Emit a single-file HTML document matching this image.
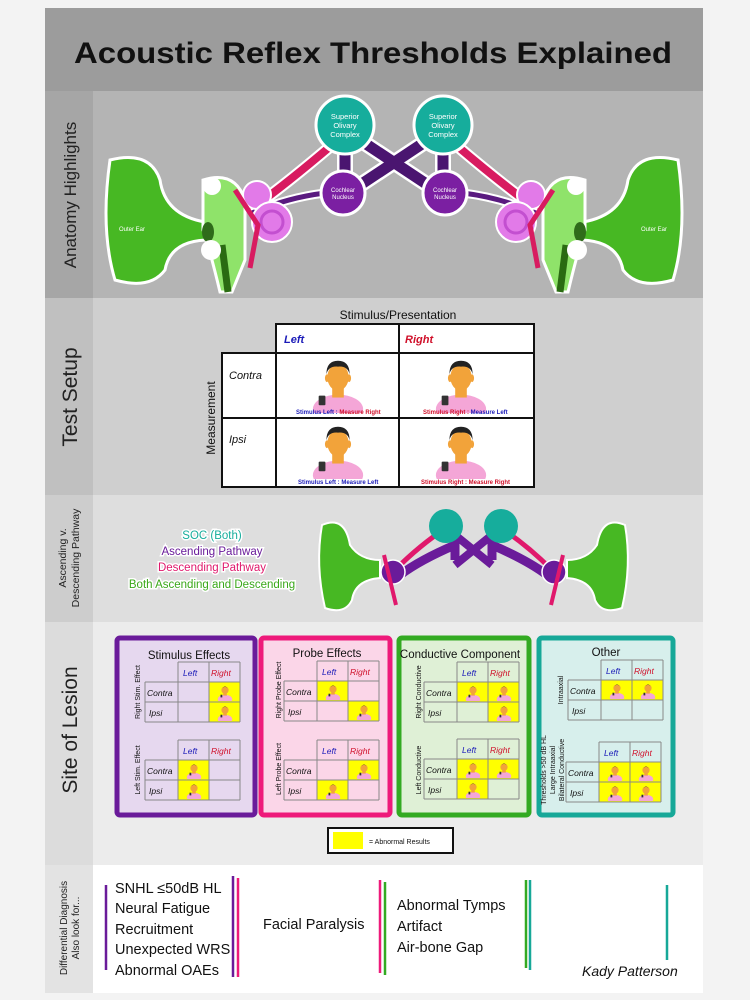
<!DOCTYPE html>
<html><head><meta charset="utf-8"><style>
html,body{margin:0;padding:0;background:#f3f3f3;}
svg{display:block;}
text{font-family:"Liberation Sans",sans-serif;}
</style></head><body>
<svg width="750" height="1000" viewBox="0 0 750 1000" xmlns="http://www.w3.org/2000/svg">
<defs>
<symbol id="pp" viewBox="0 0 20 20">
<ellipse cx="10" cy="18" rx="8" ry="5" fill="#f4a6d7"/>
<rect x="8" y="10" width="4" height="4" fill="#f2a33a"/>
<circle cx="10" cy="8" r="4" fill="#f2a33a"/>
<path d="M6 7 Q10 1 14 7 Q12 4 10 4.5 Q8 4 6 7Z" fill="#222"/>
<rect x="5" y="13" width="2" height="3" fill="#333"/>
</symbol>
<symbol id="pb" viewBox="0 0 60 60">
<ellipse cx="30" cy="56" rx="26" ry="15" fill="#f4a6d7"/>
<rect x="24" y="32" width="12" height="12" fill="#f2a33a"/>
<ellipse cx="30" cy="23" rx="11" ry="14" fill="#f2a33a"/>
<path d="M18 20 Q18 6 30 6 Q42 6 42 20 Q40 11 30 12 Q20 11 18 20Z" fill="#222"/>
<ellipse cx="18.5" cy="24" rx="2" ry="4" fill="#f2a33a"/>
<ellipse cx="41.5" cy="24" rx="2" ry="4" fill="#f2a33a"/>
<rect x="10" y="42" width="7" height="10" rx="1" fill="#333"/>
</symbol>
</defs>
<rect width="750" height="1000" fill="#f3f3f3"/>
<!-- title -->
<rect x="45" y="8" width="658" height="83" fill="#9c9c9c"/>
<text x="373" y="63" text-anchor="middle" font-size="30" font-weight="bold" fill="#111" textLength="598" lengthAdjust="spacingAndGlyphs">Acoustic Reflex Thresholds Explained</text>
<!-- section backgrounds -->
<rect x="45" y="91" width="658" height="207" fill="#b4b4b4"/><rect x="45" y="91" width="48" height="207" fill="#a6a6a6"/>
<rect x="45" y="298" width="658" height="197" fill="#cfcfcf"/><rect x="45" y="298" width="48" height="197" fill="#c0c0c0"/>
<rect x="45" y="495" width="658" height="127" fill="#dedede"/><rect x="45" y="495" width="48" height="127" fill="#cdcdcd"/>
<rect x="45" y="622" width="658" height="243" fill="#ececec"/><rect x="45" y="622" width="48" height="243" fill="#dcdcdc"/>
<rect x="45" y="865" width="658" height="128" fill="#ffffff"/><rect x="45" y="865" width="48" height="128" fill="#e3e3e3"/>
<!-- section labels -->
<text transform="translate(76,195) rotate(-90)" text-anchor="middle" font-size="17" fill="#222">Anatomy Highlights</text>
<text transform="translate(77,397) rotate(-90)" text-anchor="middle" font-size="21" fill="#222">Test Setup</text>
<text transform="translate(66,558) rotate(-90)" text-anchor="middle" font-size="10.5" fill="#222">Ascending v.</text>
<text transform="translate(79,558) rotate(-90)" text-anchor="middle" font-size="10.5" fill="#222">Descending Pathway</text>
<text transform="translate(77,730) rotate(-90)" text-anchor="middle" font-size="21" fill="#222">Site of Lesion</text>
<text transform="translate(67,928) rotate(-90)" text-anchor="middle" font-size="10" fill="#222">Differential Diagnosis</text>
<text transform="translate(79,928) rotate(-90)" text-anchor="middle" font-size="10" fill="#222">Also look for...</text>

<!-- ANATOMY -->
<path d="M345 130 L443 195 M443 130 L345 195" stroke="#fff" stroke-width="16"/>
<path d="M345 130 L443 195 M443 130 L345 195" stroke="#4a1570" stroke-width="11"/>
<g id="earL">
<path d="M345 140 L345 190" stroke="#fff" stroke-width="16"/>
<path d="M345 140 L345 190" stroke="#4a1570" stroke-width="11"/>
<path d="M250 210 Q285 185 332 145" stroke="#fff" stroke-width="12" fill="none"/>
<path d="M250 210 Q285 185 332 145" stroke="#d81b60" stroke-width="8" fill="none"/>
<path d="M250 214 Q285 198 325 193" stroke="#fff" stroke-width="9" fill="none"/>
<path d="M250 214 Q285 198 325 193" stroke="#5a1a80" stroke-width="5" fill="none"/>
<path d="M110 160 Q150 150 160 180 Q165 215 205 222 L205 240 Q170 242 165 270 Q150 290 115 280 Q100 230 110 160Z" fill="#47b823" stroke="#fff" stroke-width="3"/>
<path d="M203 180 Q235 170 245 200 L245 260 L232 292 L220 292 Q210 250 203 230Z" fill="#8fe36a" stroke="#fff" stroke-width="3"/>
<path d="M222 245 L228 292" stroke="#2a6b12" stroke-width="7"/>
<ellipse cx="208" cy="232" rx="6" ry="10" fill="#2f6b1a"/>
<circle cx="257" cy="195" r="14" fill="#e27ae8" stroke="#fff" stroke-width="2"/>
<circle cx="272" cy="222" r="20" fill="#e27ae8" stroke="#fff" stroke-width="2"/>
<circle cx="272" cy="222" r="11" fill="none" stroke="#c34fd0" stroke-width="3"/>
<path d="M235 190 L258 225 L250 268" stroke="#d81b60" stroke-width="5" fill="none"/>
<circle cx="345" cy="125" r="29" fill="#16ad9c" stroke="#fff" stroke-width="3"/>
<circle cx="343" cy="193" r="22" fill="#7b1fa2" stroke="#fff" stroke-width="3"/>
<circle cx="212" cy="186" r="9" fill="#fff"/>
<circle cx="211" cy="250" r="10" fill="#fff"/>
</g>
<use href="#earL" transform="translate(788,0) scale(-1,1)"/>
<g font-size="7.5" fill="#fff" text-anchor="middle">
<text x="345" y="119">Superior</text><text x="345" y="128">Olivary</text><text x="345" y="137">Complex</text>
<text x="443" y="119">Superior</text><text x="443" y="128">Olivary</text><text x="443" y="137">Complex</text>
<text x="343" y="192" font-size="6">Cochlear</text><text x="343" y="199" font-size="6">Nucleus</text>
<text x="445" y="192" font-size="6">Cochlear</text><text x="445" y="199" font-size="6">Nucleus</text>
<text x="132" y="231" font-size="6">Outer Ear</text><text x="654" y="231" font-size="6">Outer Ear</text>
</g>

<!-- TEST SETUP -->
<text x="398" y="319" text-anchor="middle" font-size="12" fill="#111">Stimulus/Presentation</text>
<text transform="translate(215,418) rotate(-90)" text-anchor="middle" font-size="12" fill="#111">Measurement</text>
<rect x="276" y="324" width="258" height="29" fill="#fff" stroke="#111" stroke-width="2"/>
<rect x="222" y="353" width="312" height="134" fill="#fff" stroke="#111" stroke-width="2"/>
<path d="M276 353 V487 M399 324 V487 M222 418 H534" stroke="#111" stroke-width="2"/>
<text x="284" y="343" font-size="11" font-style="italic" font-weight="bold" fill="#1a1ab8">Left</text>
<text x="405" y="343" font-size="11" font-style="italic" font-weight="bold" fill="#d0102a">Right</text>
<text x="229" y="379" font-size="11" font-style="italic" fill="#111">Contra</text>
<text x="229" y="443" font-size="11" font-style="italic" fill="#111">Ipsi</text>
<use href="#pb" x="305" y="355" width="66" height="58"/>
<use href="#pb" x="428" y="355" width="66" height="58"/>
<use href="#pb" x="305" y="421" width="66" height="58"/>
<use href="#pb" x="428" y="421" width="66" height="58"/>
<g font-size="6" font-weight="bold">
<text x="296" y="414" fill="#1a1ab8">Stimulus Left : <tspan fill="#d0102a">Measure Right</tspan></text>
<text x="423" y="414" fill="#d0102a">Stimulus Right : <tspan fill="#1a1ab8">Measure Left</tspan></text>
<text x="298" y="484" fill="#1a1ab8">Stimulus Left : Measure Left</text>
<text x="421" y="484" fill="#d0102a">Stimulus Right : Measure Right</text>
</g>

<!-- ASCENDING -->
<g font-size="11.5" text-anchor="middle" stroke="#fff" stroke-width="3" paint-order="stroke">
<text x="212" y="539" fill="#16ad9c">SOC (Both)</text>
<text x="212" y="555" fill="#6a1b9a">Ascending Pathway</text>
<text x="212" y="571" fill="#e0186c">Descending Pathway</text>
<text x="212" y="588" fill="#3aa81a">Both Ascending and Descending</text>
</g>
<path d="M455 535 L492 565 M492 535 L455 565" stroke="#6a1b9a" stroke-width="8"/>
<g id="asL">
<path d="M322 525 Q345 515 350 545 Q360 560 380 560 L380 578 Q355 580 352 600 Q345 615 325 608 Q315 565 322 525Z" fill="#47b823" stroke="#fff" stroke-width="2"/>
<path d="M400 575 Q420 560 455 545" stroke="#6a1b9a" stroke-width="9" fill="none"/>
<path d="M395 570 Q420 545 446 528" stroke="#e0186c" stroke-width="5" fill="none"/>
<circle cx="393" cy="572" r="12" fill="#6a1b9a" stroke="#fff" stroke-width="1.5"/>
<path d="M384 555 L396 605" stroke="#e0186c" stroke-width="4"/>
<path d="M455 530 L455 560" stroke="#6a1b9a" stroke-width="9"/>
<circle cx="446" cy="526" r="17" fill="#16ad9c"/>
</g>
<use href="#asL" transform="translate(947,0) scale(-1,1)"/>

<!-- LESION PANELS -->
<rect x="117" y="638" width="138" height="177" rx="3" fill="#e6d8ef" stroke="#6a1b9a" stroke-width="5"/>
<rect x="261" y="638" width="129" height="177" rx="3" fill="#fbd6e8" stroke="#ee1a7a" stroke-width="5"/>
<rect x="399" y="638" width="130" height="177" rx="3" fill="#dff0d6" stroke="#33aa22" stroke-width="5"/>
<rect x="539" y="638" width="134" height="177" rx="3" fill="#d7efec" stroke="#17a898" stroke-width="5"/>
<g font-size="11.5" text-anchor="middle" fill="#111">
<text x="189" y="659">Stimulus Effects</text>
<text x="327" y="657">Probe Effects</text>
<text x="460" y="658">Conductive Component</text>
<text x="606" y="656">Other</text>
</g>
<g font-size="7" fill="#111" text-anchor="middle">
<text transform="translate(140,692) rotate(-90)">Right Stim. Effect</text>
<text transform="translate(140,770) rotate(-90)">Left Stim. Effect</text>
<text transform="translate(281,690) rotate(-90)">Right Probe Effect</text>
<text transform="translate(281,769) rotate(-90)">Left Probe Effect</text>
<text transform="translate(421,692) rotate(-90)">Right Conductive</text>
<text transform="translate(421,770) rotate(-90)">Left Conductive</text>
<text transform="translate(563,690) rotate(-90)">Intraaxial</text>
<text transform="translate(546,770) rotate(-90)">Thresholds &gt;50 dB HL</text>
<text transform="translate(555,770) rotate(-90)">Large Intraaxial</text>
<text transform="translate(564,770) rotate(-90)">Bilateral Conductive</text>
</g>

<g font-size="8.5" font-style="italic">
<g transform="translate(145,662)">
<rect x="64" y="20" width="31" height="40" fill="#ffff00"/>
<use href="#pp" x="71" y="21" width="18" height="18"/><use href="#pp" x="71" y="41" width="18" height="18"/>
<path d="M33 0H95M0 20H95M0 40H95M0 60H95M0 20V60M33 0V60M64 0V60M95 0V60" stroke="#888" fill="none"/>
<text x="38" y="14" fill="#1a1ab8">Left</text><text x="66" y="14" fill="#d0102a">Right</text><text x="2" y="34" fill="#111">Contra</text><text x="4" y="54" fill="#111">Ipsi</text>
</g>
<g transform="translate(145,740)">
<rect x="33" y="20" width="31" height="40" fill="#ffff00"/>
<use href="#pp" x="40" y="21" width="18" height="18"/><use href="#pp" x="40" y="41" width="18" height="18"/>
<path d="M33 0H95M0 20H95M0 40H95M0 60H95M0 20V60M33 0V60M64 0V60M95 0V60" stroke="#888" fill="none"/>
<text x="38" y="14" fill="#1a1ab8">Left</text><text x="66" y="14" fill="#d0102a">Right</text><text x="2" y="34" fill="#111">Contra</text><text x="4" y="54" fill="#111">Ipsi</text>
</g>
<g transform="translate(284,661)">
<rect x="33" y="20" width="31" height="20" fill="#ffff00"/><rect x="64" y="40" width="31" height="20" fill="#ffff00"/>
<use href="#pp" x="40" y="21" width="18" height="18"/><use href="#pp" x="71" y="41" width="18" height="18"/>
<path d="M33 0H95M0 20H95M0 40H95M0 60H95M0 20V60M33 0V60M64 0V60M95 0V60" stroke="#888" fill="none"/>
<text x="38" y="14" fill="#1a1ab8">Left</text><text x="66" y="14" fill="#d0102a">Right</text><text x="2" y="34" fill="#111">Contra</text><text x="4" y="54" fill="#111">Ipsi</text>
</g>
<g transform="translate(284,740)">
<rect x="64" y="20" width="31" height="20" fill="#ffff00"/><rect x="33" y="40" width="31" height="20" fill="#ffff00"/>
<use href="#pp" x="71" y="21" width="18" height="18"/><use href="#pp" x="40" y="41" width="18" height="18"/>
<path d="M33 0H95M0 20H95M0 40H95M0 60H95M0 20V60M33 0V60M64 0V60M95 0V60" stroke="#888" fill="none"/>
<text x="38" y="14" fill="#1a1ab8">Left</text><text x="66" y="14" fill="#d0102a">Right</text><text x="2" y="34" fill="#111">Contra</text><text x="4" y="54" fill="#111">Ipsi</text>
</g>
<g transform="translate(424,662)">
<rect x="33" y="20" width="62" height="20" fill="#ffff00"/><rect x="64" y="40" width="31" height="20" fill="#ffff00"/>
<use href="#pp" x="40" y="21" width="18" height="18"/><use href="#pp" x="71" y="21" width="18" height="18"/><use href="#pp" x="71" y="41" width="18" height="18"/>
<path d="M33 0H95M0 20H95M0 40H95M0 60H95M0 20V60M33 0V60M64 0V60M95 0V60" stroke="#888" fill="none"/>
<text x="38" y="14" fill="#1a1ab8">Left</text><text x="66" y="14" fill="#d0102a">Right</text><text x="2" y="34" fill="#111">Contra</text><text x="4" y="54" fill="#111">Ipsi</text>
</g>
<g transform="translate(424,739)">
<rect x="33" y="20" width="62" height="20" fill="#ffff00"/><rect x="33" y="40" width="31" height="20" fill="#ffff00"/>
<use href="#pp" x="40" y="21" width="18" height="18"/><use href="#pp" x="71" y="21" width="18" height="18"/><use href="#pp" x="40" y="41" width="18" height="18"/>
<path d="M33 0H95M0 20H95M0 40H95M0 60H95M0 20V60M33 0V60M64 0V60M95 0V60" stroke="#888" fill="none"/>
<text x="38" y="14" fill="#1a1ab8">Left</text><text x="66" y="14" fill="#d0102a">Right</text><text x="2" y="34" fill="#111">Contra</text><text x="4" y="54" fill="#111">Ipsi</text>
</g>
<g transform="translate(568,660)">
<rect x="33" y="20" width="62" height="20" fill="#ffff00"/>
<use href="#pp" x="40" y="21" width="18" height="18"/><use href="#pp" x="71" y="21" width="18" height="18"/>
<path d="M33 0H95M0 20H95M0 40H95M0 60H95M0 20V60M33 0V60M64 0V60M95 0V60" stroke="#888" fill="none"/>
<text x="38" y="14" fill="#1a1ab8">Left</text><text x="66" y="14" fill="#d0102a">Right</text><text x="2" y="34" fill="#111">Contra</text><text x="4" y="54" fill="#111">Ipsi</text>
</g>
<g transform="translate(566,742)">
<rect x="33" y="20" width="62" height="40" fill="#ffff00"/>
<use href="#pp" x="40" y="21" width="18" height="18"/><use href="#pp" x="71" y="21" width="18" height="18"/><use href="#pp" x="40" y="41" width="18" height="18"/><use href="#pp" x="71" y="41" width="18" height="18"/>
<path d="M33 0H95M0 20H95M0 40H95M0 60H95M0 20V60M33 0V60M64 0V60M95 0V60" stroke="#888" fill="none"/>
<text x="38" y="14" fill="#1a1ab8">Left</text><text x="66" y="14" fill="#d0102a">Right</text><text x="2" y="34" fill="#111">Contra</text><text x="4" y="54" fill="#111">Ipsi</text>
</g>
</g>
<!-- legend -->
<rect x="328" y="828" width="125" height="25" fill="#fff" stroke="#111" stroke-width="2"/>
<rect x="333" y="832" width="30" height="17" fill="#ffff00"/>
<text x="369" y="844" font-size="7" fill="#111">= Abnormal Results</text>

<!-- DIFFERENTIAL -->
<g stroke-width="2.5">
<path d="M106 885V970" stroke="#6a1b9a"/>
<path d="M233 876V977" stroke="#6a1b9a"/><path d="M238 878V977" stroke="#ee1a7a"/>
<path d="M380 880V973" stroke="#ee1a7a"/><path d="M385 882V975" stroke="#33aa22"/>
<path d="M526 880V968" stroke="#33aa22"/><path d="M530 880V970" stroke="#17a898"/>
<path d="M667 885V960" stroke="#17a898"/>
</g>
<g font-size="14.5" fill="#111">
<text x="115" y="893">SNHL ≤50dB HL</text>
<text x="115" y="913">Neural Fatigue</text>
<text x="115" y="934">Recruitment</text>
<text x="115" y="954">Unexpected WRS</text>
<text x="115" y="975">Abnormal OAEs</text>
<text x="263" y="929">Facial Paralysis</text>
<text x="397" y="910">Abnormal Tymps</text>
<text x="397" y="931">Artifact</text>
<text x="397" y="952">Air-bone Gap</text>
</g>
<text x="582" y="976" font-size="14" font-style="italic" fill="#111" font-family="'Liberation Serif',serif">Kady Patterson</text>
</svg>
</body></html>
